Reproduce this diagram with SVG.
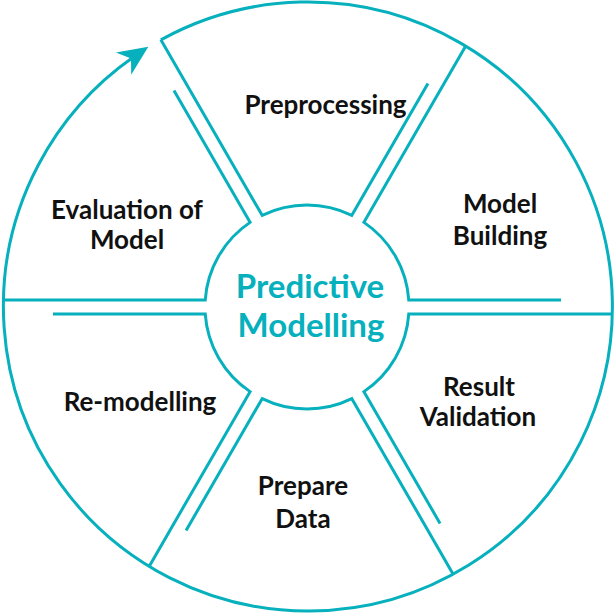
<svg xmlns="http://www.w3.org/2000/svg" width="614" height="614" viewBox="0 0 614 614">
<style>
.seg{fill:none;stroke:#07B0BD;stroke-width:3;stroke-linejoin:miter;stroke-linecap:butt}
.ring{fill:none;stroke:#07B0BD;stroke-width:3}
.head{fill:#07B0BD;stroke:none}
.lbl{font-family:Lato,"Open Sans","Liberation Sans",sans-serif;font-weight:700;font-size:26px;fill:#111111;text-anchor:middle}
.title{font-family:Lato,"Open Sans","Liberation Sans",sans-serif;font-weight:700;font-size:33px;fill:#07B0BD;text-anchor:middle}
</style>
<rect width="614" height="614" fill="#ffffff"/>
<g id="connectors">
<path class="ring" d="M 160.85 39.87 A 304.5 304.5 0 1 1 133.5 56.9"/>
<polygon class="head" points="0,0 -30,-13.5 -21,0 -30,13.5" transform="translate(148.3 46.7) rotate(-34.5)"/>
</g>
<g id="preprocessing">
<path class="seg" d="M 160.85 39.87 L 262.18 215.37 A 102 102 0 0 1 351.82 215.37 L 427.94 83.53"/>
<text class="lbl" x="325.5" y="114">Preprocessing</text>
</g>
<g id="model-building">
<path class="seg" d="M 465.27 46.87 L 363.94 222.37 A 102 102 0 0 1 408.76 300 L 561 300"/>
<text class="lbl" x="500" y="213">Model</text>
<text class="lbl" x="500" y="245">Building</text>
</g>
<g id="result-validation">
<path class="seg" d="M 611.42 314 L 408.76 314 A 102 102 0 0 1 363.94 391.63 L 440.06 523.47"/>
<text class="lbl" x="479" y="395.5">Result</text>
<text class="lbl" x="478" y="426">Validation</text>
</g>
<g id="prepare-data">
<path class="seg" d="M 453.15 574.13 L 351.82 398.63 A 102 102 0 0 1 262.18 398.63 L 186.06 530.47"/>
<text class="lbl" x="303" y="495">Prepare</text>
<text class="lbl" x="303" y="528">Data</text>
</g>
<g id="re-modelling">
<path class="seg" d="M 148.73 567.13 L 250.06 391.63 A 102 102 0 0 1 205.24 314 L 53 314"/>
<text class="lbl" x="140" y="411">Re-modelling</text>
</g>
<g id="evaluation-of-model">
<path class="seg" d="M 2.58 300 L 205.24 300 A 102 102 0 0 1 250.06 222.37 L 173.94 90.53"/>
<text class="lbl" x="127" y="218.5">Evaluation of</text>
<text class="lbl" x="127" y="249">Model</text>
</g>
<g id="predictive-modelling">
<text class="title" x="310" y="297.5">Predictive</text>
<text class="title" x="311" y="337">Modelling</text>
</g>
</svg>
